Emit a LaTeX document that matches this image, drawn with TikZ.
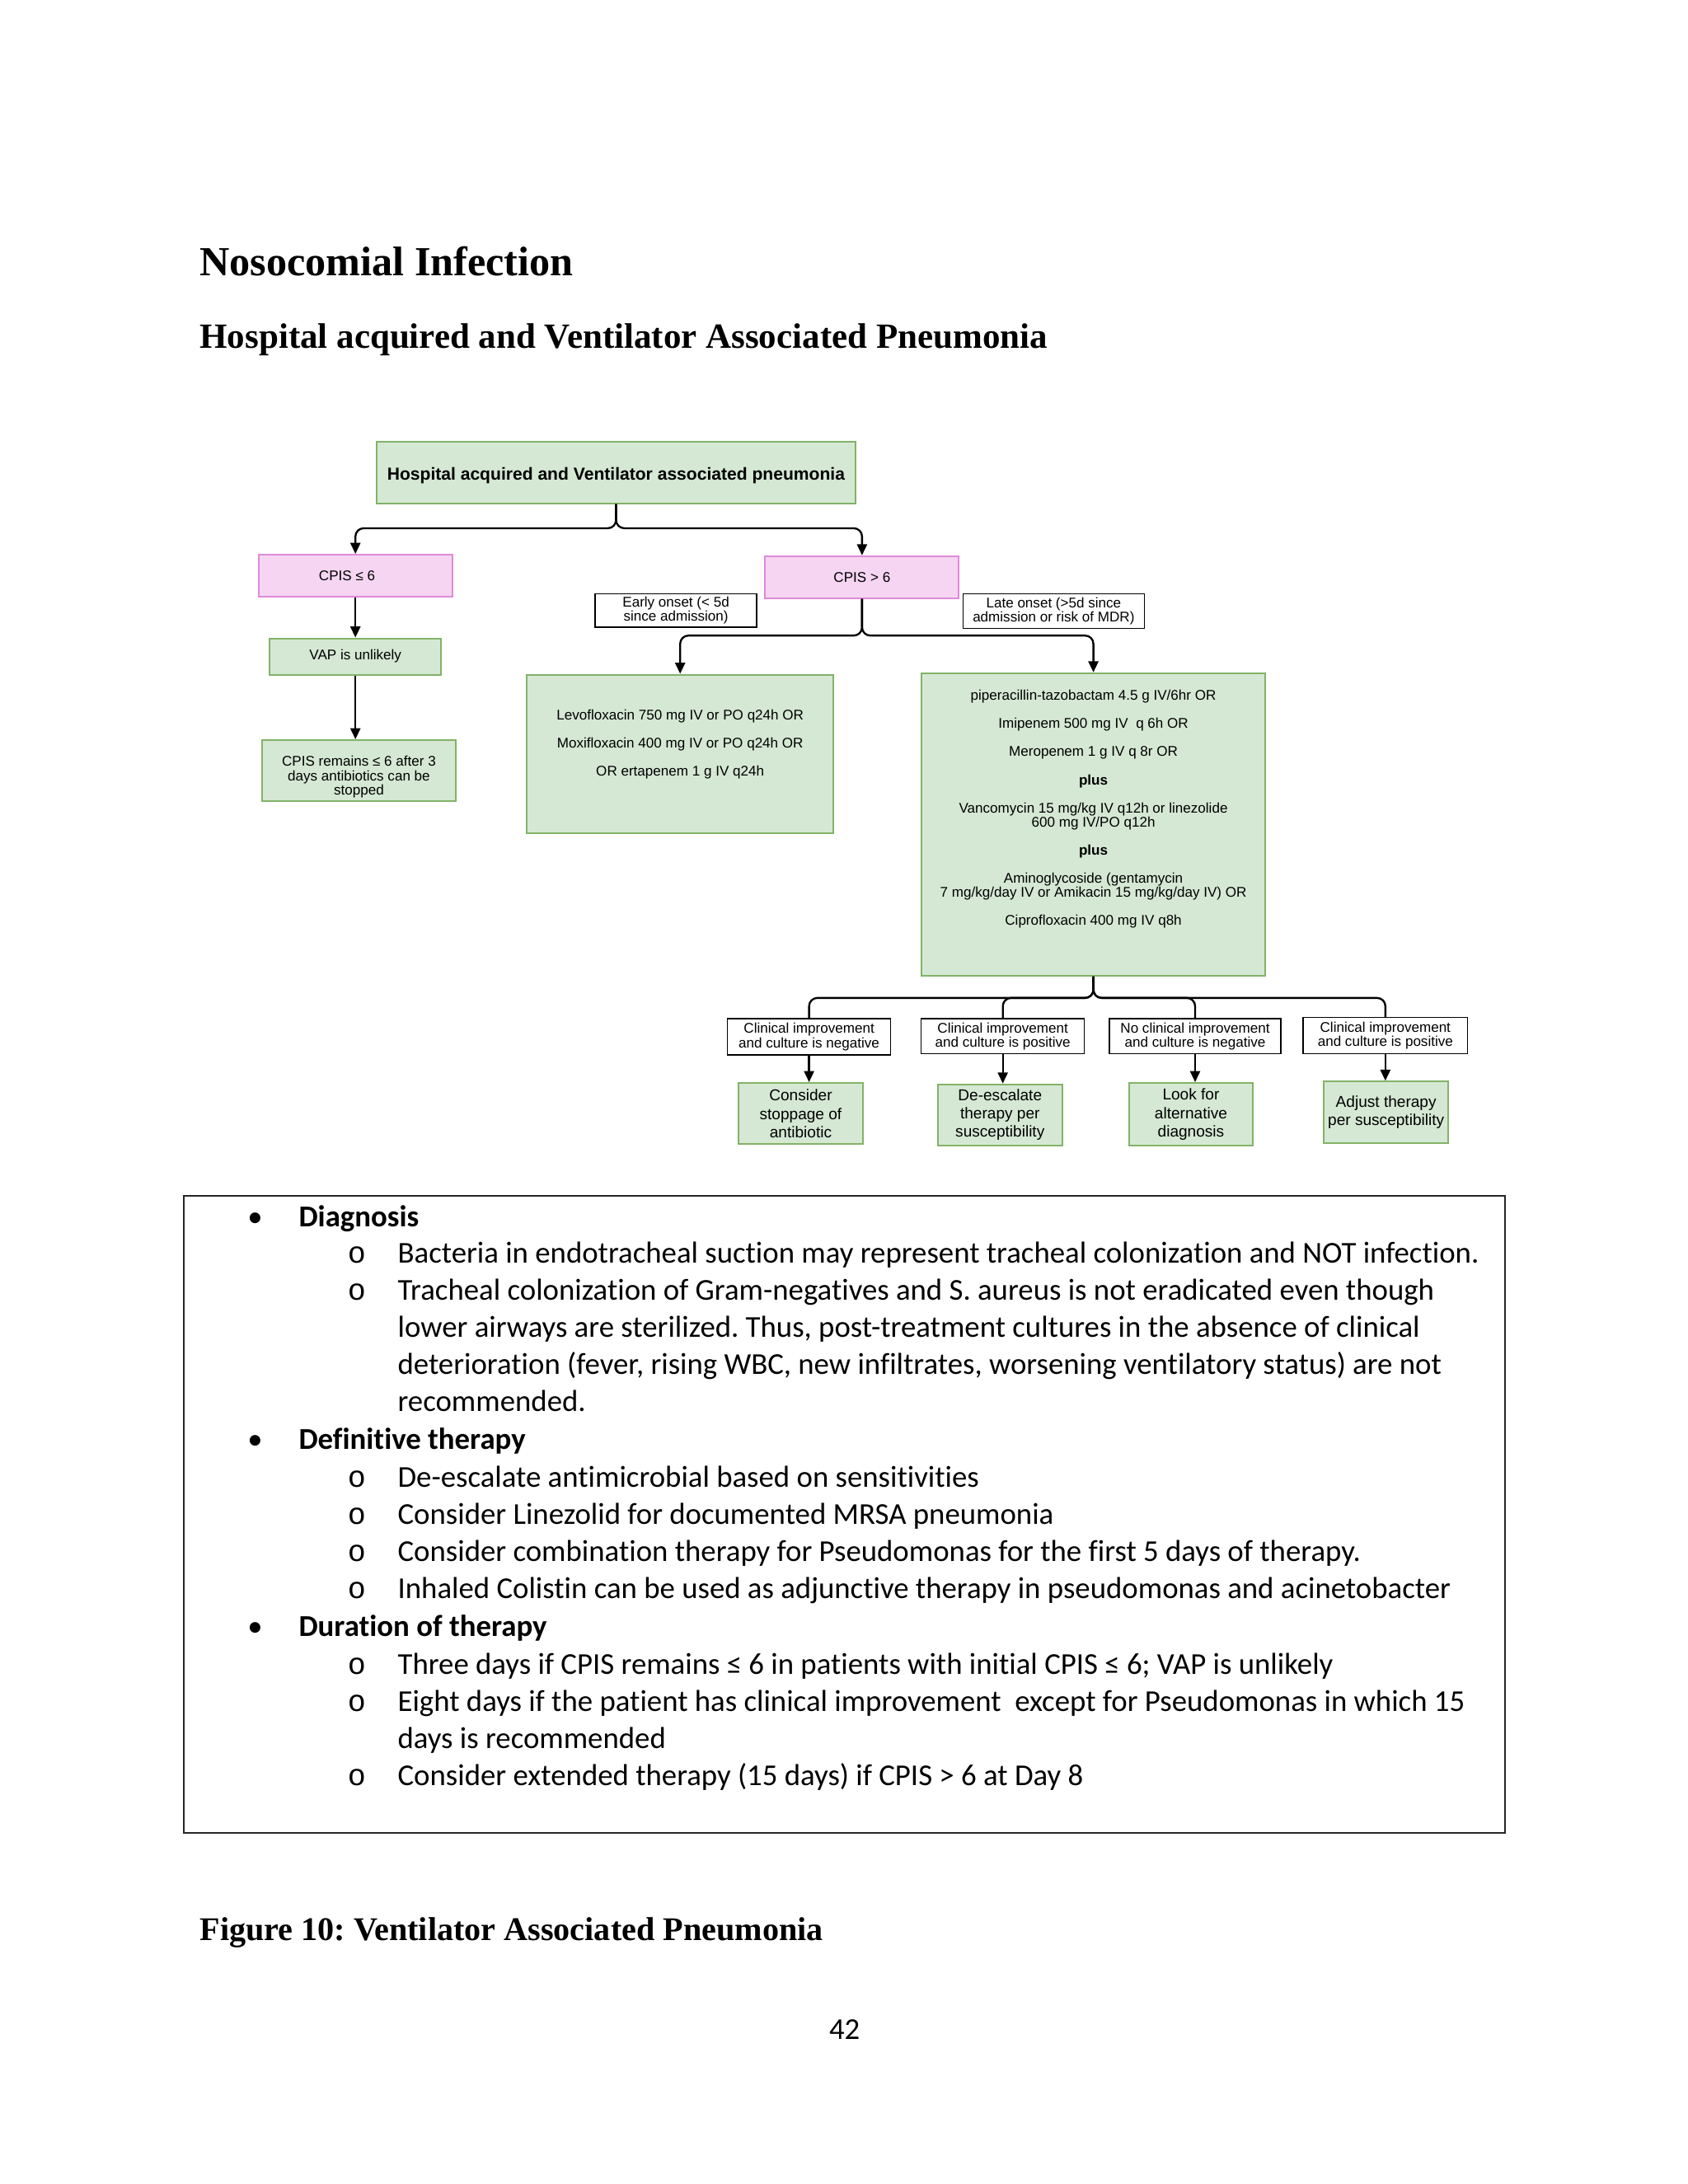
\documentclass[tikz,border=0pt]{standalone}
\usepackage{fontspec}
\setmainfont{Carlito}[Ligatures=CommonOff]
\newfontfamily\headfont{Liberation Serif}
\newfontfamily\flowfont{Liberation Sans}
\newfontfamily\bulfont{Liberation Mono}
\usetikzlibrary{arrows.meta}
\definecolor{gfill}{HTML}{D5E8D4}
\definecolor{gdraw}{HTML}{82B366}
\definecolor{pfill}{HTML}{F5D5F1}
\definecolor{pdraw}{HTML}{E08AD9}
\def\u{0.5054pt}
\frenchspacing
\tikzset{
  box/.style={draw, line width=0.6pt, inner sep=0pt, align=center,
    font=\flowfont\fontsize{5.1}{5.2}\selectfont},
  gbox/.style={box, fill=gfill, draw=gdraw},
  pbox/.style={box, fill=pfill, draw=pdraw},
  wbox/.style={box, fill=white, draw=black, line width=0.45pt},
  rbox/.style={gbox, font=\flowfont\fontsize{5.7}{6.6}\selectfont},
  ftxt/.style={inner sep=0pt, align=center, font=\flowfont\fontsize{5.1}{5.2}\selectfont},
  conn/.style={draw=black, line width=0.7pt, rounded corners=3pt},
  arr/.style={conn, -{Triangle[length=4pt,width=3.6pt]}},
  bodyline/.style={anchor=base west, inner sep=0pt, font=\fontsize{11}{13.5}\selectfont},
  bul/.style={anchor=base, inner sep=0pt, font=\fontsize{11}{13.5}\selectfont},
  sbul/.style={anchor=base, inner sep=0pt, font=\bulfont\fontsize{11}{13.5}\selectfont},
  head/.style={anchor=base west, inner sep=0pt}
}
\begin{document}
\begin{tikzpicture}[x=0.50537pt,y=-0.50542pt]
\useasboundingbox (0,0) rectangle (1211,1567);

% headings
\node[head, font=\headfont\bfseries\fontsize{15}{18}\selectfont] (h1) at (143,197.5) {Nosocomial Infection};
\node[head, font=\headfont\bfseries\fontsize{12.85}{15}\selectfont] (h2) at (143,250) {Hospital acquired and Ventilator Associated Pneumonia};

% flowchart boxes
\node[gbox, minimum width=344*\u, minimum height=44*\u] (title) at (442,339) {};
\node[ftxt, font=\flowfont\bfseries\fontsize{6.3}{7}\selectfont] (titlet) at (442,341) {Hospital acquired and Ventilator associated pneumonia};
\node[pbox, minimum width=139*\u, minimum height=30*\u] (cple) at (255,413) {};
\node[ftxt] (cplet) at (249,413) {CPIS ≤ 6};
\node[pbox, minimum width=139*\u, minimum height=30*\u] (cpgt) at (618.5,414) {CPIS > 6};
\node[gbox, minimum width=123*\u, minimum height=26*\u] (vap) at (255,471) {VAP is unlikely};
\node[gbox, minimum width=139*\u, minimum height=44*\u] (rem) at (257.5,553) {};
\node[ftxt] (remt) at (257.5,557.5) {CPIS remains ≤ 6 after 3\\days antibiotics can be\\stopped};
\node[wbox, minimum width=116*\u, minimum height=24*\u] (early) at (485,438) {Early onset (< 5d\\since admission)};
\node[wbox, minimum width=130*\u, minimum height=25*\u] (late) at (756,438.5) {Late onset (>5d since\\admission or risk of MDR)};

\node[gbox, minimum width=220*\u, minimum height=114*\u] (levo) at (488,541) {};
\node[ftxt] (levot) at (488,534) {Levofloxacin 750 mg IV or PO q24h OR\\[4.9pt]
  Moxifloxacin 400 mg IV or PO q24h OR\\[4.9pt]
  OR ertapenem 1 g IV q24h};

\node[gbox, minimum width=247*\u, minimum height=217*\u] (big) at (784.5,591.5) {};
\node[ftxt] (bigt) at (784.5,580.5) {piperacillin-tazobactam 4.5 g IV/6hr OR\\[4.9pt]
  Imipenem 500 mg IV\ \ q 6h OR\\[4.9pt]
  Meropenem 1 g IV q 8r OR\\[5.2pt]
  \textbf{plus}\\[4.9pt]
  Vancomycin 15 mg/kg IV q12h or linezolide\\
  600 mg IV/PO q12h\\[4.9pt]
  \textbf{plus}\\[4.9pt]
  Aminoglycoside (gentamycin\\
  7 mg/kg/day IV or Amikacin 15 mg/kg/day IV) OR\\[4.9pt]
  Ciprofloxacin 400 mg IV q8h};

\node[wbox, minimum width=117*\u, minimum height=26*\u] (l1) at (580.5,744) {Clinical improvement\\and culture is negative};
\node[wbox, minimum width=117*\u, minimum height=25*\u] (l2) at (719.5,743.5) {Clinical improvement\\and culture is positive};
\node[wbox, minimum width=123*\u, minimum height=25*\u] (l3) at (857.5,743.5) {No clinical improvement\\and culture is negative};
\node[wbox, minimum width=118*\u, minimum height=26*\u] (l4) at (994,743) {Clinical improvement\\and culture is positive};

\node[rbox, minimum width=89*\u, minimum height=44*\u] (r1) at (574.5,799) {Consider\\stoppage of\\antibiotic};
\node[rbox, minimum width=89*\u, minimum height=44*\u] (r2) at (717.5,800) {De-escalate\\therapy per\\susceptibility};
\node[rbox, minimum width=89*\u, minimum height=45*\u] (r3) at (854.5,799.5) {Look for\\alternative\\diagnosis};
\node[rbox, minimum width=89*\u, minimum height=44*\u] (r4) at (994.5,798) {Adjust therapy\\per susceptibility};

% connectors
\coordinate (j1) at (442,379);
\draw[arr] (title.south) -- (j1) -| (cple.north);
\draw[arr] (title.south) -- (j1) -| (cpgt.north);
\draw[arr] (cple.south) -- (vap.north);
\draw[arr] (vap.south) -- (vap.south |- rem.north);
\coordinate (j2) at (618.5,456);
\draw[arr] (cpgt.south) -- (j2) -| (levo.north);
\draw[arr] (cpgt.south) -- (j2) -| (big.north);
\coordinate (j3) at (784.5,716);
\draw[conn] (big.south) -- (j3) -| (l1.north);
\draw[conn] (big.south) -- (j3) -| (l2.north);
\draw[conn] (big.south) -- (j3) -| (l3.north);
\draw[conn] (big.south) -- (j3) -| (l4.north);
\draw[arr] (l1.south) -- (l1.south |- r1.north);
\draw[arr] (l2.south) -- (l2.south |- r2.north);
\draw[arr] (l3.south) -- (l3.south |- r3.north);
\draw[arr] (l4.south) -- (l4.south |- r4.north);

% text box
\node[draw=black!85, line width=0.7pt, minimum width=948*\u, minimum height=457*\u, inner sep=0pt] (tbox) at (606,1086.5) {};

\node[bul] (b1) at (183,880) {•};
\node[bodyline] (t1) at (214,880) {\textbf{Diagnosis}};
\node[sbul] (s1) at (256,906) {o};
\node[bodyline] (t2) at (285,906) {Bacteria in endotracheal suction may represent tracheal colonization and NOT infection.};
\node[sbul] (s2) at (256,933) {o};
\node[bodyline] (t3) at (285,933) {Tracheal colonization of Gram-negatives and S. aureus is not eradicated even though};
\node[bodyline] (t4) at (285,959.5) {lower airways are sterilized. Thus, post-treatment cultures in the absence of clinical};
\node[bodyline] (t5) at (285,986) {deterioration (fever, rising WBC, new infiltrates, worsening ventilatory status) are not};
\node[bodyline] (t6) at (285,1012.5) {recommended.};

\node[bul] (b2) at (183,1040) {•};
\node[bodyline] (t7) at (214,1040) {\textbf{Definitive therapy}};
\node[sbul] (s3) at (256,1067) {o};
\node[bodyline] (t8) at (285,1067) {De-escalate antimicrobial based on sensitivities};
\node[sbul] (s4) at (256,1093.5) {o};
\node[bodyline] (t9) at (285,1093.5) {Consider Linezolid for documented MRSA pneumonia};
\node[sbul] (s5) at (256,1120) {o};
\node[bodyline] (t10) at (285,1120) {Consider combination therapy for Pseudomonas for the first 5 days of therapy.};
\node[sbul] (s6) at (256,1147) {o};
\node[bodyline] (t11) at (285,1147) {Inhaled Colistin can be used as adjunctive therapy in pseudomonas and acinetobacter};

\node[bul] (b3) at (183,1174) {•};
\node[bodyline] (t12) at (214,1174) {\textbf{Duration of therapy}};
\node[sbul] (s7) at (256,1201) {o};
\node[bodyline] (t13) at (285,1201) {Three days if CPIS remains ≤ 6 in patients with initial CPIS ≤ 6; VAP is unlikely};
\node[sbul] (s8) at (256,1228) {o};
\node[bodyline] (t14) at (285,1228) {Eight days if the patient has clinical improvement\ \ except for Pseudomonas in which 15};
\node[bodyline] (t15) at (285,1254.5) {days is recommended};
\node[sbul] (s9) at (256,1281) {o};
\node[bodyline] (t16) at (285,1281) {Consider extended therapy (15 days) if CPIS > 6 at Day 8};

% caption and page number
\node[head, font=\headfont\bfseries\fontsize{12}{14}\selectfont] (cap) at (143,1392) {Figure 10: Ventilator Associated Pneumonia};
\node[anchor=base, inner sep=0pt, font=\fontsize{11}{13}\selectfont] (pg) at (606,1463) {42};
\end{tikzpicture}
\end{document}
